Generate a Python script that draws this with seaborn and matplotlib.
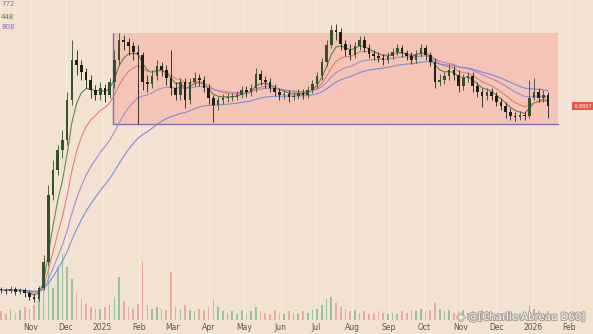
import numpy as np
import pandas as pd
import matplotlib
matplotlib.use("Agg")
import matplotlib.pyplot as plt
import matplotlib.dates as mdates
import matplotlib.patheffects as pe
import seaborn as sns

# ---------------- data (4-day candles) ----------------
start_date = "2024-10-07"
candle_days = 4
first_open = 45

closes = [44, 43, 45, 42, 44, 41, 37, 35, 46, 72,
          139, 164, 184, 194, 234, 274, 269, 262, 254, 244,
          239, 246, 239, 252, 274, 294, 292, 288, 282, 279,
          252, 250, 258, 268, 264, 256, 246, 239, 252, 234,
          252, 256, 254, 246, 236, 229, 234, 236, 237, 237,
          239, 244, 242, 246, 260, 254, 252, 246, 242, 239,
          240, 237, 238, 241, 239, 244, 250, 258, 272, 289,
          304, 302, 290, 284, 279, 288, 294, 286, 280, 278,
          276, 274, 278, 282, 286, 281, 278, 274, 280, 286,
          279, 272, 252, 254, 258, 264, 259, 248, 256, 258,
          248, 242, 238, 242, 238, 232, 228, 222, 218, 217,
          219, 218, 236, 242, 236, 239, 228]

highs = [47, 46, 48, 47, 46, 46, 43, 40, 48, 79,
         149, 174, 189, 204, 242, 294, 284, 274, 266, 259,
         249, 252, 250, 256, 284, 301, 299, 296, 292, 289,
         282, 259, 264, 274, 272, 269, 284, 252, 256, 256,
         256, 262, 260, 258, 250, 239, 238, 240, 241, 241,
         243, 248, 248, 250, 266, 264, 258, 256, 250, 246,
         244, 244, 242, 245, 245, 248, 254, 262, 276, 294,
         309, 310, 306, 294, 290, 292, 298, 298, 290, 284,
         282, 280, 282, 286, 290, 289, 284, 282, 284, 290,
         289, 282, 276, 260, 262, 270, 268, 264, 260, 262,
         262, 252, 246, 246, 246, 242, 236, 232, 226, 222,
         223, 222, 254, 256, 246, 244, 242]

lows = [41, 40, 41, 39, 40, 37, 34, 32, 33, 44,
        69, 134, 159, 176, 189, 229, 259, 254, 246, 236,
        234, 234, 232, 236, 246, 269, 284, 279, 274, 210,
        244, 242, 246, 254, 258, 249, 239, 234, 234, 226,
        230, 248, 248, 242, 230, 212, 224, 230, 232, 233,
        234, 236, 237, 238, 242, 249, 246, 242, 238, 234,
        235, 232, 234, 235, 235, 236, 241, 246, 254, 268,
        286, 294, 284, 278, 274, 276, 284, 282, 276, 274,
        272, 269, 271, 275, 279, 277, 274, 270, 271, 277,
        274, 268, 246, 248, 250, 254, 254, 242, 244, 252,
        242, 237, 227, 234, 234, 228, 224, 216, 214, 213,
        214, 214, 216, 234, 232, 232, 216]

volumes = [8, 6, 10, 7, 9, 12, 10, 14, 20, 35,
           55, 30, 50, 62, 50, 38, 25, 20, 15, 12,
           10, 10, 12, 14, 22, 40, 18, 12, 10, 15,
           55, 14, 10, 12, 10, 9, 45, 12, 10, 14,
           9, 8, 10, 9, 12, 20, 12, 8, 7, 8,
           6, 9, 7, 8, 12, 8, 7, 6, 9, 7,
           6, 8, 7, 6, 8, 7, 9, 10, 14, 20,
           22, 16, 12, 10, 8, 9, 7, 8, 6, 7,
           8, 7, 6, 7, 6, 8, 7, 9, 8, 10,
           8, 9, 16, 10, 8, 9, 7, 8, 9, 7,
           8, 6, 9, 8, 7, 6, 7, 6, 5, 6,
           7, 6, 14, 10, 8, 6, 8]

ma_names = ["EMA 20", "EMA 50", "EMA 100", "EMA 200"]
ma_spans = [5, 10, 19, 32]            # in 4-day candles
ma_colors = ["#4f7d47", "#e2766c", "#9f84c8", "#6f87da"]

tick_dates = ["2024-11-01", "2024-12-01", "2025-01-01", "2025-02-01", "2025-03-01",
              "2025-04-01", "2025-05-01", "2025-06-01", "2025-07-01", "2025-08-01",
              "2025-09-01", "2025-10-01", "2025-11-01", "2025-12-01", "2026-01-01",
              "2026-02-01"]
tick_labels = ["Nov", "Dec", "2025", "Feb", "Mar", "Apr", "May", "Jun", "Jul",
               "Aug", "Sep", "Oct", "Nov", "Dec", "2026", "Feb"]

box_start, box_end = "2025-01-10", "2026-01-22"
box_top, box_bottom = 301, 210

legend_vals = ["772", "448", "808"]
price_label = "0.8857"
watermark = "◈ @[Charlie Abreau D60]"

# ---------------- build frame ----------------
dates = pd.date_range(start_date, periods=len(closes), freq=f"{candle_days}D")
df = pd.DataFrame({"date": dates, "close": closes, "high": highs,
                   "low": lows, "volume": volumes})
df["open"] = [first_open] + closes[:-1]
df["x"] = mdates.date2num(df["date"])
for name, s in zip(ma_names, ma_spans):
    df[name] = df["close"].ewm(span=s, adjust=False).mean()

# ---------------- style ----------------
BG = "#f2e2d1"
sns.set_theme(style="white")
plt.rcParams["font.family"] = ["DejaVu Sans"]

fig = plt.figure(figsize=(5.93, 3.34), dpi=100, facecolor=BG)
ax_h = 320 / 334
ax2 = fig.add_axes([0, 1 - ax_h, 1, ax_h])   # volume
ax = fig.add_axes([0, 1 - ax_h, 1, ax_h])    # price
ax2.set_facecolor(BG)
ax.patch.set_visible(False)

x0 = mdates.date2num(pd.Timestamp("2024-10-06"))
x1 = mdates.date2num(pd.Timestamp("2026-02-21"))

# faint vertical grid
for d in tick_dates:
    ax2.axvline(mdates.date2num(pd.Timestamp(d)), color="#f6eadd", lw=1.0, zorder=0)

# volume
up = df["close"] >= df["open"]
vcol = np.where(up, "#7db596", "#e8988f")
ax2.bar(df["x"], df["volume"], width=1.4, color=vcol, alpha=0.75,
        linewidth=0, edgecolor="none", zorder=1)
ax2.set_ylim(0, 300)
ax2.set_xlim(x0, x1)
ax2.axis("off")

# rectangle zone
bx0 = mdates.date2num(pd.Timestamp(box_start))
bx1 = mdates.date2num(pd.Timestamp(box_end))
ax.add_patch(plt.Rectangle((bx0, box_bottom), bx1 - bx0, box_top - box_bottom,
                           facecolor="#f4c4b7", edgecolor="none", zorder=0))
ax.plot([bx0, bx0], [box_bottom, box_top], color="#8a6db3", lw=1.0, zorder=1)
ax.plot([bx0, bx1], [box_bottom, box_bottom], color="#8a6db3", lw=1.0, zorder=1)

# moving averages
for name, c in zip(ma_names, ma_colors):
    sns.lineplot(data=df, x="x", y=name, ax=ax, color=c, lw=0.8, alpha=0.9,
                 zorder=2, legend=False)

# candles
ccol = np.where(up, "#34502e", "#1d201b")
ax.vlines(df["x"], df["low"], df["high"], colors=ccol, lw=0.6, zorder=3)
body_lo = np.minimum(df["open"], df["close"])
body_h = np.maximum(np.abs(df["close"] - df["open"]), 1.2)
ax.bar(df["x"], body_h, bottom=body_lo, width=2.2, color=ccol,
       linewidth=0, edgecolor="none", zorder=4)

ax.set_xlim(x0, x1)
ax.set_ylim(14, 334)
ax.set_xlabel("")
ax.set_ylabel("")
ax.set_yticks([])
ax.set_xticks([mdates.date2num(pd.Timestamp(d)) for d in tick_dates])
ax.set_xticklabels(tick_labels, fontsize=5.5, color="#555555")
ax.tick_params(axis="x", length=0, pad=2)
for s in ax.spines.values():
    s.set_visible(False)

# last price label
last = df["close"].iloc[-1]
ax.text(x1, last, f" {price_label} ", ha="right", va="center", fontsize=3.5,
        color="white", bbox=dict(boxstyle="square,pad=0.25", fc="#e05a48", ec="none"),
        zorder=6)

# legend values at top-left
for v, yy, c in zip(legend_vals, [4, 17, 27], ["#6f7fd0", "#4f7d47", "#8a6db3"]):
    fig.text(1 / 593, 1 - yy / 334, v, ha="left", va="center", fontsize=5, color=c)

# watermark
fig.text(521 / 593, 1 - 317 / 334, watermark, ha="center", va="center",
         fontsize=7.3, color="#f8f5f2",
         path_effects=[pe.withStroke(linewidth=1.5, foreground="#a9a29b")])

fig.savefig("out.png", dpi=100, facecolor=BG)
